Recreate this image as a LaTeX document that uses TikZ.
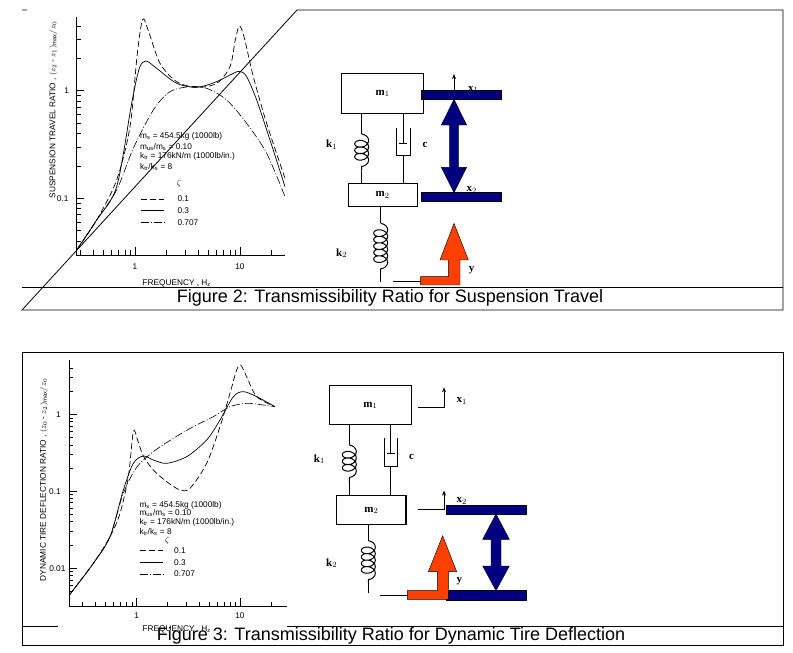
\documentclass[tikz,border=0pt]{standalone}
\usepackage{fontspec}
\setmainfont{Liberation Sans}
\newfontfamily\serifb{Liberation Serif}
\usetikzlibrary{decorations.pathmorphing,arrows.meta}
\begin{document}
\begin{tikzpicture}[x=1pt,y=-1pt,
  frame/.style={line width=0.8pt},
  ax/.style={line width=0.7pt},
  dsh/.style={line width=0.7pt,dash pattern=on 6pt off 3pt},
  sol/.style={line width=0.7pt},
  dd/.style={line width=0.6pt,dash pattern=on 8pt off 2pt on 1pt off 2pt},
  plt/.style={font=\fontsize{8.3}{9.5}\selectfont,inner sep=0pt},
  captxt/.style={font=\fontsize{18}{21}\selectfont},
  box/.style={draw,line width=1.2pt},
  mlab/.style={font=\serifb\bfseries\fontsize{11}{12}\selectfont,inner sep=1pt},
  spring/.style={line width=1pt,decorate,decoration={coil,aspect=0.7,segment length=6.5pt,amplitude=7pt,pre length=0pt,post length=0pt}},
  bluefill/.style={fill={rgb,255:red,0;green,0;blue,128}},
  orng/.style={fill={rgb,255:red,255;green,64;blue,0}},
  thn/.style={line width=0.6pt}]
\useasboundingbox (0,0) rectangle (793,653);
% frames
\draw[frame] (22,10)--(27,10) (297,10)--(783,10)--(783,310)--(22,310)--cycle; \draw[frame] (22,287)--(783,287);
\node[captxt] (c2) at (390,298) {Figure 2: Transmissibility Ratio for Suspension Travel};
\draw[frame] (22,352) rectangle (783,645); \draw[frame] (22,626)--(58,626) (287,626)--(783,626);
\node[captxt] (c3) at (391,636) {Figure 3: Transmissibility Ratio for Dynamic Tire Deflection};

% ===== top plot (zoom coords) =====
\begin{scope}[shift={(20,0)},scale=1/3]
\draw[ax] (170,50)--(170,765)--(795,765);
\foreach \f in {0.3,0.4,0.5,0.6,0.7,0.8,0.9,2,3,4,5,6,7,8,9,20}{
  \pgfmathsetmacro{\xx}{345+315*log10(\f)}\draw[thn] (\xx,765)--(\xx,750);}
\foreach \f in {1,10}{\pgfmathsetmacro{\xx}{345+315*log10(\f)}\draw[thn] (\xx,765)--(\xx,740);}
\foreach \v in {0.04,0.05,0.06,0.07,0.08,0.09,0.2,0.3,0.4,0.5,0.6,0.7,0.8,0.9,2,3,4}{
  \pgfmathsetmacro{\yy}{272-323*log10(\v)}\draw[thn] (170,\yy)--(182,\yy);}
\draw[thn] (170,272)--(192,272); \draw[thn] (170,595)--(192,595);
\node[plt] (t1) at (140,272) {1};
\node[plt] (t01) at (128,595) {0.1};
\node[plt] (tx1) at (345,800) {1};
\node[plt] (tx10) at (660,800) {10};
\node[plt] (tf) at (470,850) {FREQUENCY , H$_\mathrm{z}$};
\node[plt,rotate=90] (ty) at (100,330) {SUSPENSION TRAVEL RATIO , $(z_2$ - $z_1)_{\mathrm{max}}/z_0$};
\draw[dsh] plot[smooth] coordinates {(170,750) (230,660) (290,540) (330,380) (352,160) (368,58) (385,92) (420,190) (470,245) (530,262) (590,250) (630,200) (646,120) (658,78) (672,110) (700,230) (740,370) (795,535)};
\draw[sol] plot[smooth] coordinates {(170,750) (230,660) (290,560) (335,310) (358,205) (378,183) (410,205) (470,250) (530,262) (590,245) (640,220) (660,214) (680,230) (710,300) (750,420) (795,560)};
\draw[dd] plot[smooth] coordinates {(170,750) (230,660) (290,570) (340,445) (400,330) (450,275) (510,260) (560,265) (620,300) (680,370) (740,460) (795,590)};
\begin{scope}[every node/.style={plt,anchor=west}]
\node (l1) at (360,410) {m$_\mathrm{s}$ = 454.5kg (1000lb)};
\node (l2) at (360,440) {m$_\mathrm{us}$/m$_\mathrm{s}$ = 0.10};
\node (l3) at (360,470) {k$_\mathrm{tr}$ = 176kN/m (1000lb/in.)};
\node (l4) at (360,500) {k$_\mathrm{tr}$/k$_\mathrm{s}$ = 8};
\node (lz) at (470,550) {$\zeta$};
\node (la) at (472,597) {0.1};
\node (lb) at (472,632) {0.3};
\node (lc) at (472,667) {0.707};
\end{scope}
\draw[dsh] (362,597)--(432,597); \draw[sol] (362,632)--(432,632); \draw[dd] (362,667)--(432,667);
\end{scope}

% ===== bottom plot =====
\begin{scope}[shift={(20,350)},scale=1/3]
\draw[ax] (148,30)--(148,770)--(800,770);
\foreach \f in {0.3,0.4,0.5,0.6,0.7,0.8,0.9,2,3,4,5,6,7,8,9,20}{
  \pgfmathsetmacro{\xx}{350+310*log10(\f)}\draw[thn] (\xx,770)--(\xx,755);}
\foreach \f in {1,10}{\pgfmathsetmacro{\xx}{350+310*log10(\f)}\draw[thn] (\xx,770)--(\xx,745);}
\foreach \v in {0.005,0.006,0.007,0.008,0.009,0.02,0.03,0.04,0.05,0.06,0.07,0.08,0.09,0.2,0.3,0.4,0.5,0.6,0.7,0.8,0.9,2,3,4}{
  \pgfmathsetmacro{\yy}{193-231*log10(\v)}\draw[thn] (148,\yy)--(160,\yy);}
\foreach \yy in {193,425,655}{\draw[thn] (148,\yy)--(170,\yy);}
\node[plt] (b1) at (115,193) {1};
\node[plt] (b01) at (105,425) {0.1};
\node[plt] (b001) at (112,655) {0.01};
\node[plt] (bx1) at (350,797) {1};
\node[plt] (bx10) at (660,797) {10};
\node[plt] (bf) at (470,838) {FREQUENCY , H$_\mathrm{z}$};
\node[plt,rotate=90] (by) at (72,390) {DYNAMIC TIRE DEFLECTION RATIO , $(z_0$ - $z_2)_{\mathrm{max}}/z_0$};
\draw[dsh] plot[smooth] coordinates {(148,735) (220,640) (270,560) (300,490) (325,380) (340,245) (352,268) (370,318) (400,360) (440,395) (480,420) (510,415) (560,340) (600,230) (630,130) (650,60) (662,45) (680,80) (710,140) (765,170)};
\draw[sol] plot[smooth] coordinates {(148,735) (220,640) (270,560) (310,420) (340,340) (370,318) (400,330) (440,340) (500,320) (560,270) (600,210) (640,140) (670,125) (710,140) (765,170)};
\draw[dd] plot[smooth] coordinates {(148,735) (220,640) (270,560) (310,430) (350,352) (400,305) (460,265) (520,230) (580,200) (630,170) (680,160) (730,165) (765,170)};
\begin{scope}[every node/.style={plt,anchor=west}]
\node (k1) at (358,465) {m$_\mathrm{s}$ = 454.5kg (1000lb)};
\node (k2) at (358,490) {m$_\mathrm{us}$/m$_\mathrm{s}$ = 0.10};
\node (k3) at (358,518) {k$_\mathrm{tr}$ = 176kN/m (1000lb/in.)};
\node (k4) at (358,545) {k$_\mathrm{tr}$/k$_\mathrm{s}$ = 8};
\node (kz) at (435,572) {$\zeta$};
\node (ka) at (462,602) {0.1};
\node (kb) at (462,637) {0.3};
\node (kc) at (462,672) {0.707};
\end{scope}
\draw[dsh] (360,602)--(430,602); \draw[sol] (360,637)--(430,637); \draw[dd] (360,672)--(430,672);
\end{scope}

% ===== top schematic =====
\begin{scope}[shift={(300,60)},scale=1/3]
\draw[bluefill] (365,92) rectangle (605,118);
\draw[bluefill] (365,398) rectangle (605,424);
\node[box,minimum width=247/3,minimum height=120/3] (m1) at (248,100) {};
\node[mlab] at (m1) {m$_1$};
\node[box,fill=white,minimum width=207/3,minimum height=70/3] (m2) at (248,405) {};
\node[mlab] at (m2) {m$_2$};
\draw[line width=1pt] (185,160)--(185,222);
\draw[spring] (185,222)--(185,332);
\draw[line width=1pt] (185,332)--(185,370);
\draw[line width=1pt] (310,160)--(310,250) (298,250)--(322,250);
\draw[line width=1pt] (290,205)--(290,285)--(330,285)--(330,205) (310,285)--(310,370);
\draw[line width=1pt] (242,440)--(242,490);
\draw[spring] (242,490)--(242,640);
\draw[line width=1pt] (242,640)--(242,665);
\node[mlab] (k1l) at (95,255) {k$_1$};
\node[mlab] (cl) at (375,255) {c};
\node[mlab] (k2l) at (125,580) {k$_2$};
\draw[thn,-{Stealth[length=5pt,width=4pt]}] (462,92)--(462,42);
\node[mlab] (x1l) at (520,88) {x$_1$};
\node[mlab] (x2l) at (515,390) {x$_2$};
\draw[bluefill] (462,118)--(500,195)--(475,195)--(475,322)--(500,322)--(462,398)--(424,322)--(449,322)--(449,195)--(424,195)--cycle;
\draw[thn] (280,663)--(362,663);
\draw[orng] (362,650)--(445,650)--(445,600)--(420,600)--(462,490)--(505,600)--(480,600)--(480,675)--(362,675)--cycle;
\node[mlab] (yl) at (515,630) {y};
\end{scope}

% ===== bottom schematic =====
\begin{scope}[shift={(300,370)},scale=1/3]
\draw[bluefill] (438,405) rectangle (678,432);
\draw[bluefill] (438,662) rectangle (678,690);
\node[box,minimum width=247/3,minimum height=117/3] (n1) at (211,106) {};
\node[mlab] at (n1) {m$_1$};
\node[box,minimum width=208/3,minimum height=87/3] (n2) at (214,421) {};
\node[mlab] at (n2) {m$_2$};
\draw[line width=1pt] (148,165)--(148,225);
\draw[spring] (148,225)--(148,340);
\draw[line width=1pt] (148,340)--(148,378);
\draw[line width=1pt] (272,165)--(272,250) (260,250)--(284,250);
\draw[line width=1pt] (252,205)--(252,290)--(292,290)--(292,205) (272,290)--(272,378);
\draw[line width=1pt] (205,465)--(205,512);
\draw[spring] (205,512)--(205,640);
\draw[line width=1pt] (205,640)--(205,670);
\node[mlab] (j1) at (58,268) {k$_1$};
\node[mlab] (jc) at (335,262) {c};
\node[mlab] (j2) at (95,580) {k$_2$};
\draw[thn,-{Stealth[length=5pt,width=4pt]}] (355,113)--(432,113)--(432,52);
\node[mlab] (jx1) at (485,93) {x$_1$};
\draw[thn,-{Stealth[length=5pt,width=4pt]}] (355,418)--(432,418)--(432,362);
\node[mlab] (jx2) at (485,393) {x$_2$};
\draw[bluefill] (588,432)--(628,508)--(603,508)--(603,588)--(628,588)--(588,662)--(548,588)--(573,588)--(573,508)--(548,508)--cycle;
\draw[thn] (240,675)--(322,675);
\draw[orng] (322,662)--(412,662)--(412,605)--(385,605)--(428,497)--(470,605)--(445,605)--(445,688)--(322,688)--cycle;
\node[mlab] (jy) at (478,632) {y};
\end{scope}
\end{tikzpicture}
\end{document}
